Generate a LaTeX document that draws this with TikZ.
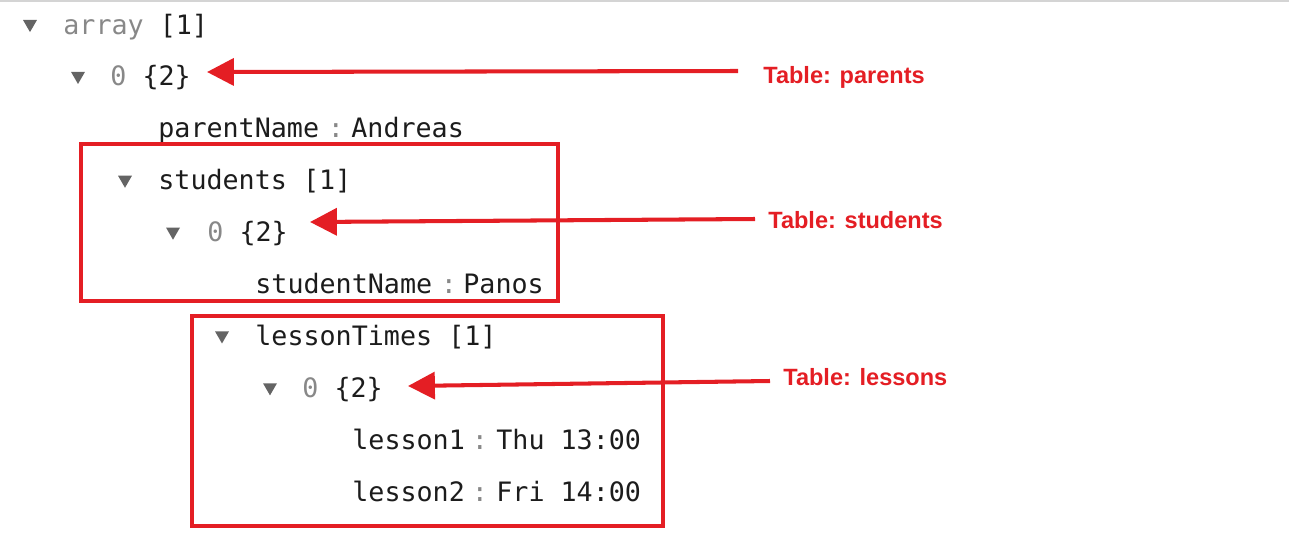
\documentclass[tikz,border=0pt]{standalone}
\usepackage{fontspec}
\usepackage{tikz}
\usetikzlibrary{arrows.meta,shapes.geometric}

\newfontfamily\jsonfont{DejaVu Sans Mono}
\newfontfamily\notefont{Liberation Sans}

\definecolor{tablered}{RGB}{228,30,36}
\definecolor{keygray}{RGB}{136,136,136}
\definecolor{trigray}{RGB}{100,100,100}
\definecolor{linegray}{RGB}{212,212,212}
\definecolor{inkblack}{RGB}{28,28,28}

\tikzset{
	row/.style={anchor=base west, inner sep=0, text=inkblack, font=\jsonfont\fontsize{15.2}{18}\selectfont},
	sep/.style={anchor=base, inner sep=0, text=keygray, font=\jsonfont\fontsize{15.2}{18}\selectfont},
	toggle/.style={regular polygon, regular polygon sides=3, shape border rotate=180, fill=trigray, minimum size=9.2pt, inner sep=0},
	tablebox/.style={draw=tablered, line width=2.3pt},
	tablearrow/.style={draw=tablered, line width=2.3pt, -{Triangle[length=15.3pt,width=15.3pt]}},
	tablenote/.style={anchor=west, inner sep=0, text=tablered, font=\notefont\bfseries\fontsize{13.4}{16}\selectfont}
}

\begin{document}
\begin{tikzpicture}[x=0.02cm, y=-0.02cm]
				\useasboundingbox (0,0) rectangle (1289,542);
				\draw[linegray, line width=1.1pt] (0,1) -- (1289,1); % barra in alto

				\begin{scope}
					% array
					\node[toggle] (t1) at (30,24) {};
					\node[row] (r1) at (63,34) {{\color{keygray}array} [1]};
					\node[toggle] (t2) at (78,75.9) {};
					\node[row] (r2) at (110,85.9) {{\color{keygray}0} \{2\}};
					\node[row] (k3) at (158,137.8) {parentName};
					\node[sep] (c3) at (336,137.8) {:};
					\node[row] (v3) at (351,137.8) {Andreas};

					% students
					\node[toggle] (t4) at (125,179.7) {};
					\node[row] (r4) at (158,189.7) {students [1]};
					\node[toggle] (t5) at (173,231.6) {};
					\node[row] (r5) at (207,241.6) {{\color{keygray}0} \{2\}};
					\node[row] (k6) at (255,293.5) {studentName};
					\node[sep] (c6) at (449,293.5) {:};
					\node[row] (v6) at (463,293.5) {Panos};

					% lessonTimes
					\node[toggle] (t7) at (222,335.4) {};
					\node[row] (r7) at (255,345.4) {lessonTimes [1]};
					\node[toggle] (t8) at (270,387.3) {};
					\node[row] (r8) at (302,397.3) {{\color{keygray}0} \{2\}};
					\node[row] (k9) at (352,449.2) {lesson1};
					\node[sep] (c9) at (480,449.2) {:};
					\node[row] (v9) at (496,449.2) {Thu 13:00};
					\node[row] (k10) at (352,501.1) {lesson2};
					\node[sep] (c10) at (480,501.1) {:};
					\node[row] (v10) at (496,501.1) {Fri 14:00};
				\end{scope}

				% riquadri
				\draw[tablebox] (81,144) rectangle (558,301);
				\draw[tablebox] (192,316) rectangle (663,526);

				% note e frecce
				\node[tablenote] (n1) at (763,77) {Table: parents};
				\node[tablenote] (n2) at (768,220) {Table: students};
				\node[tablenote] (n3) at (783,377) {Table: lessons};

				\coordinate (p1) at (738,71);  \coordinate (h1) at (207,72);
				\coordinate (p2) at (755,219); \coordinate (h2) at (310,222);
				\coordinate (p3) at (770,381); \coordinate (h3) at (408,386);

				\draw[tablearrow] (p1) -- (h1); % parents
				\draw[tablearrow] (p2) -- (h2); % students
				\draw[tablearrow] (p3) -- (h3); % lessons
			\end{tikzpicture}
\end{document}
